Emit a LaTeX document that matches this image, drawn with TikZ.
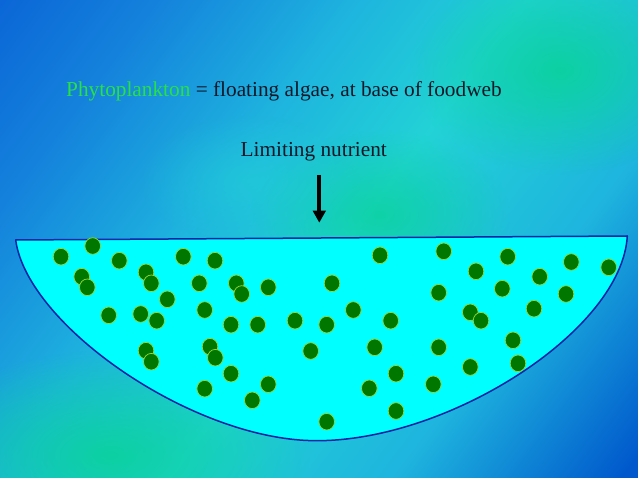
\documentclass[tikz,border=0pt]{standalone}
\usepackage{fontspec}
\setmainfont{Liberation Serif}
\usetikzlibrary{arrows.meta,fadings}
\definecolor{bgA}{RGB}{10,100,214}
\definecolor{bgA2}{RGB}{20,130,220}
\definecolor{bgB}{RGB}{30,180,222}
\definecolor{bgC}{RGB}{34,210,214}
\definecolor{bgD}{RGB}{0,88,204}
\definecolor{bgG}{RGB}{10,210,156}
\definecolor{bowlfill}{RGB}{0,255,255}
\definecolor{bowlrim}{RGB}{0,36,168}
\definecolor{dotfill}{RGB}{0,120,0}
\definecolor{dotrim}{RGB}{150,215,60}
\definecolor{phyto}{RGB}{40,225,70}
\definecolor{txt}{RGB}{14,24,40}
\pgfdeclarehorizontalshading{bgdiag}{100bp}{color(0bp)=(bgA); color(14bp)=(bgA); color(26bp)=(bgA2); color(40bp)=(bgB); color(52bp)=(bgC); color(68bp)=(bgB); color(84bp)=(bgD); color(100bp)=(bgD)}
\tikzfading[name=softspot, inner color=transparent!0, outer color=transparent!100]
\begin{document}
\begin{tikzpicture}[x=1pt,y=-1pt,
  dot/.style={fill=dotfill, draw=dotrim, line width=0.7pt},
  lbl/.style={inner sep=0pt, anchor=base west, font=\fontsize{21.3}{25}\selectfont, text=txt},
  arrowline/.style={line width=3.8pt, -{Triangle[width=12.5pt,length=12pt]}}]
\useasboundingbox (0,0) rectangle (638,478);
\shade[shading=bgdiag, shading angle=-37] (0,0) rectangle (638,478);
\begin{scope}
\clip (0,0) rectangle (638,478);
\fill[bgG, path fading=softspot, opacity=0.9] (560,70) ellipse [x radius=150pt, y radius=105pt];
\fill[bgG, path fading=softspot, opacity=0.8] (380,215) ellipse [x radius=130pt, y radius=85pt];
\fill[bgG, path fading=softspot, opacity=0.9] (110,455) ellipse [x radius=200pt, y radius=105pt];
\fill[bgC, path fading=softspot, opacity=0.5] (250,180) ellipse [x radius=110pt, y radius=65pt];
\end{scope}
% texts
\node[lbl] (title) at (66,96.7) {\textcolor{phyto}{Phytoplankton} = floating algae, at base of foodweb};
\node[lbl] (limit) at (240.5,156.7) {Limiting nutrient};
% arrow
\coordinate (arrTop) at (319.3,175);
\coordinate (arrTip) at (319.3,222.7);
\draw[arrowline] (arrTop) -- (arrTip);
% bowl
\draw[fill=bowlfill, draw=bowlrim, line width=1.5pt, line join=round]
  (15.7,240) .. controls (27,325) and (193,440.7) .. (316.7,440.7)
  .. controls (450,440.7) and (622,330) .. (627.3,236) -- cycle;
% dots
\foreach \x/\y in {61/256.7, 92.7/246, 119.3/260.7, 183.3/256.7, 215/260.7, 81.7/276.7, 87.3/287.3, 146/272.3, 151.3/283.3, 167.3/299.3, 199.3/283.3, 236.3/283.3, 241.7/294, 268.3/287.3, 108.7/315.3, 140.7/314, 156.7/320.7, 204.7/310, 231/324.7, 257.7/324.7, 295/320.7, 146/350.7, 151.3/361.7, 210/346.7, 215.3/357.7, 231/373.7, 310.7/351, 204.7/388.7, 268.3/384.3, 252.3/400.3, 380/255.3, 443.7/251.3, 507.7/256.7, 571.3/262, 608.7/267.3, 332/283.3, 476/271.3, 539.7/276.7, 438.7/292.7, 502.3/288.7, 566/294, 353.3/310, 390.7/320.7, 326.7/324.7, 470.3/312.3, 481/320.7, 534/308.7, 374.7/347.3, 438.7/347.3, 513/340.3, 396/373.7, 470.3/367, 518/363.3, 369.3/388.3, 433.3/384.3, 396/411, 326.7/421.7}
  \draw[dot] (\x,\y) ellipse [x radius=7.8pt, y radius=8.3pt];
\end{tikzpicture}
\end{document}
